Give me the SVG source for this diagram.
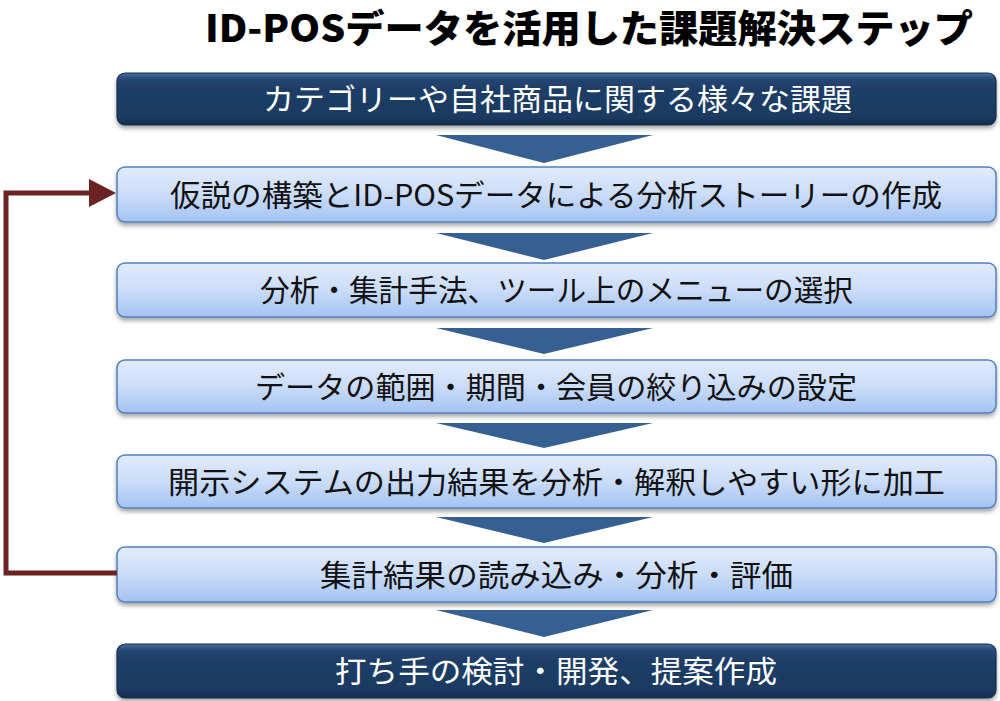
<svg xmlns="http://www.w3.org/2000/svg" width="1000" height="701" viewBox="0 0 1000 701">
<defs>
<linearGradient id="gLight" x1="0" y1="0" x2="0" y2="1">
<stop offset="0" stop-color="#e2ecfc"/>
<stop offset="0.5" stop-color="#cadcf8"/>
<stop offset="1" stop-color="#a4c3f2"/>
</linearGradient>
<linearGradient id="gDark" x1="0" y1="0" x2="0" y2="1">
<stop offset="0" stop-color="#4a6c9a"/>
<stop offset="0.12" stop-color="#254674"/>
<stop offset="0.3" stop-color="#1f3d66"/>
<stop offset="0.85" stop-color="#1d3a62"/>
<stop offset="1" stop-color="#142c4c"/>
</linearGradient>
<filter id="shadow" x="-5%" y="-20%" width="110%" height="150%">
<feGaussianBlur in="SourceAlpha" stdDeviation="2"/>
<feOffset dx="0" dy="3" result="b"/>
<feComponentTransfer><feFuncA type="linear" slope="0.35"/></feComponentTransfer>
<feMerge><feMergeNode/><feMergeNode in="SourceGraphic"/></feMerge>
</filter>
<marker id="arrow" markerWidth="6" markerHeight="6" refX="0.2" refY="3" orient="auto" markerUnits="strokeWidth" overflow="visible">
<path d="M0,0.2 L5.4,3 L0,5.8 Z" fill="#6b2222"/>
</marker>
</defs>
<style>
.light{fill:url(#gLight);stroke:#4f81bd;stroke-width:1.5;filter:url(#shadow)}
.dark{fill:url(#gDark);stroke:#17304f;stroke-width:1.2;filter:url(#shadow)}
.tri{fill:#366092}
.t{font-family:"Noto Sans CJK JP","Noto Sans",sans-serif;font-size:30px;text-anchor:middle}
.tl{fill:#111111}
.td{fill:#ffffff}
.title{font-family:"Noto Sans CJK JP","Noto Sans",sans-serif;font-size:38px;font-weight:900;fill:#000}
.conn{fill:none;stroke:#6b2222;stroke-width:5}
</style>
<rect width="1000" height="701" fill="#ffffff"/>
<text class="title" x="205" y="42" textLength="768" lengthAdjust="spacingAndGlyphs">ID-POSデータを活用した課題解決ステップ</text>

<g id="arrows">
<polygon class="tri" points="436,135 653,135 544,163"/>
<polygon class="tri" points="436,233 653,233 544,260"/>
<polygon class="tri" points="436,328 653,328 544,354"/>
<polygon class="tri" points="436,423 653,423 544,448"/>
<polygon class="tri" points="436,517 653,517 544,543"/>
<polygon class="tri" points="436,610 653,610 544,637"/>
</g>

<g id="node1">
<rect class="dark" x="117" y="73" width="879" height="52" rx="8"/>
<text class="t td" x="557.5" y="110" textLength="589" lengthAdjust="spacingAndGlyphs">カテゴリーや自社商品に関する様々な課題</text>
</g>
<g id="node2">
<rect class="light" x="117" y="167" width="879" height="55" rx="8"/>
<text class="t tl" x="556" y="205.5" textLength="772" lengthAdjust="spacingAndGlyphs">仮説の構築とID-POSデータによる分析ストーリーの作成</text>
</g>
<g id="node3">
<rect class="light" x="117" y="263" width="879" height="54" rx="8"/>
<text class="t tl" x="556.5" y="301" textLength="593" lengthAdjust="spacingAndGlyphs">分析・集計手法、ツール上のメニューの選択</text>
</g>
<g id="node4">
<rect class="light" x="117" y="360" width="879" height="53" rx="8"/>
<text class="t tl" x="556" y="397.5" textLength="602" lengthAdjust="spacingAndGlyphs">データの範囲・期間・会員の絞り込みの設定</text>
</g>
<g id="node5">
<rect class="light" x="117" y="455" width="879" height="53" rx="8"/>
<text class="t tl" x="556.5" y="492.5" textLength="777" lengthAdjust="spacingAndGlyphs">開示システムの出力結果を分析・解釈しやすい形に加工</text>
</g>
<g id="node6">
<rect class="light" x="117" y="547" width="879" height="55" rx="8"/>
<text class="t tl" x="556.5" y="585.5" textLength="473" lengthAdjust="spacingAndGlyphs">集計結果の読み込み・分析・評価</text>
</g>
<g id="node7">
<rect class="dark" x="117" y="644" width="879" height="54" rx="8"/>
<text class="t td" x="556" y="682" textLength="442" lengthAdjust="spacingAndGlyphs">打ち手の検討・開発、提案作成</text>
</g>

<g id="connectors">
<polyline class="conn" points="117,573 6,573 6,193 90,193" marker-end="url(#arrow)"/>
</g>
</svg>
